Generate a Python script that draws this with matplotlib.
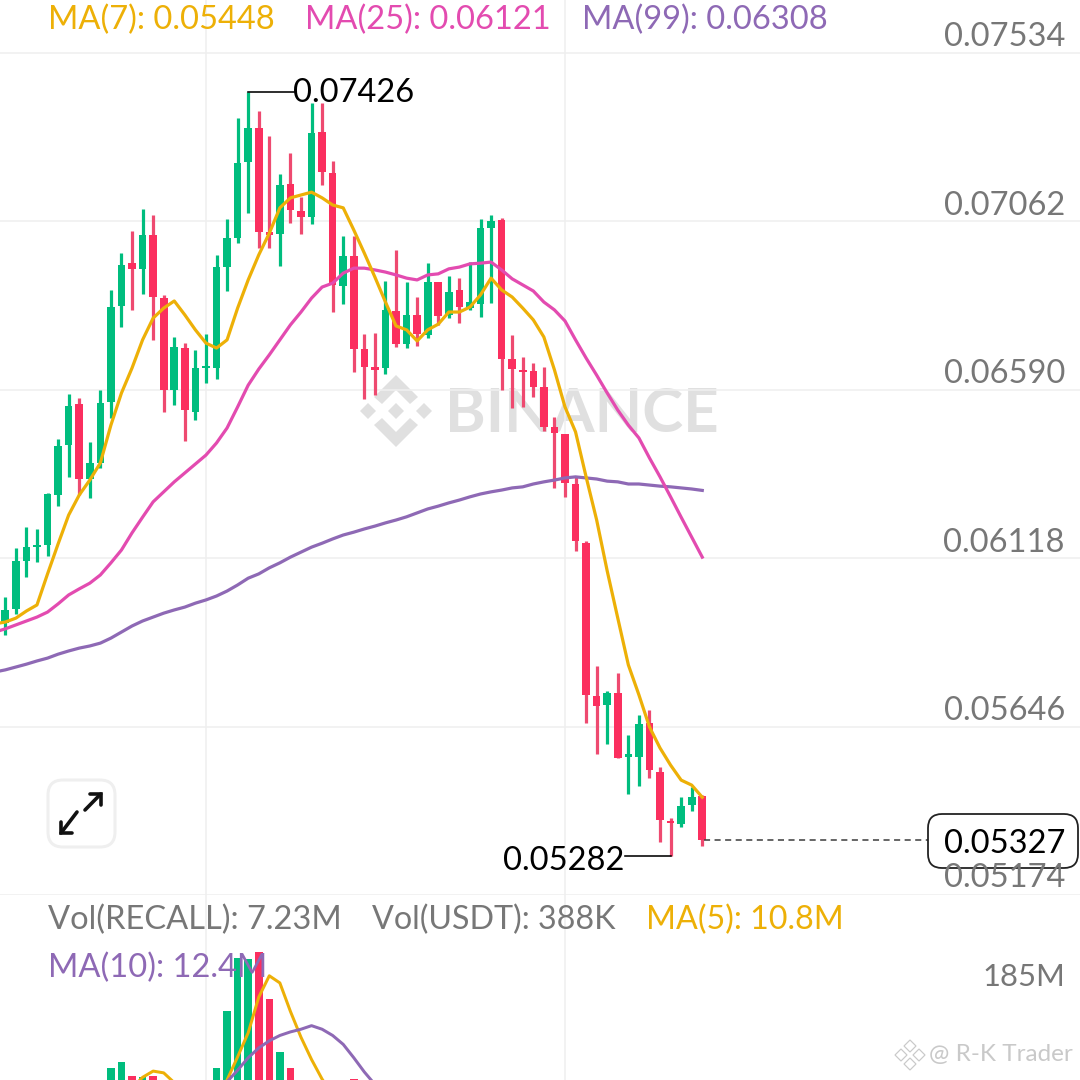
import numpy as np
import matplotlib
matplotlib.use("Agg")
import matplotlib.pyplot as plt
from matplotlib.patches import FancyBboxPatch, Polygon

plt.rcParams['font.family'] = ['Lato', 'DejaVu Sans']

# ---- data (prices in units of 0.00001) ----
PRICE_UNIT = 1e-5
candle_dir = ['G','G','G','G','G','G','G','R','G','G','G','G','R','G','R','R','G','R','G','G','G','G','G','G','R','R','G','R','R','G',
              'R','R','G','R','R','R','G','R','G','R','G','R','G','R','G','G','G','R','R','R','R','R','R','R','R','R','R','G','R','G',
              'G','R','R','R','G','G','R']
candle_high = [6009,6147,6205,6200,6301,6452,6578,6567,6444,6589,6870,6973,7035,7097,7080,6856,6738,6721,6702,6746,
               6968,7069,7352,7426,7372,7301,7195,7254,7130,7394,7394,7231,7021,7021,6746,6749,6895,6982,6892,6850,
               6945,6892,6909,6903,6948,7069,7080,7072,6744,6682,6665,6654,6514,6466,6348,6166,5816,5746,5796,5622,
               5679,5693,5533,5390,5449,5477,5454]
candle_top = [5973,6110,6149,6155,6298,6432,6545,6550,6385,6553,6822,6940,6945,7024,7024,6847,6710,6707,6651,6657,
              6934,7016,7226,7324,7324,7032,7164,7167,7091,7310,7313,7198,6965,6965,6704,6654,6814,6811,6800,6800,
              6892,6892,6864,6870,6836,7044,7063,7066,6676,6646,6643,6598,6486,6466,6326,6161,5732,5740,5740,5569,
              5653,5656,5519,5381,5423,5449,5451]
candle_bottom = [5936,5976,6110,6149,6155,6295,6435,6340,6340,6385,6556,6825,6929,6929,6850,6589,6589,6533,6528,6651,
                 6651,6934,7016,7229,7032,7024,7027,7094,7074,7074,7201,6884,6881,6704,6654,6646,6651,6718,6718,6746,
                 6744,6797,6800,6822,6819,6831,7044,6676,6648,6640,6598,6486,6469,6329,6166,5735,5704,5707,5558,5561,
                 5561,5524,5384,5376,5373,5426,5327]
candle_low = [5903,5962,6065,6107,6124,6264,6346,6295,6287,6371,6511,6766,6814,6859,6730,6528,6547,6447,6505,6609,
              6620,6867,7002,7086,6988,6988,6937,7058,7027,7055,7164,6808,6831,6640,6564,6575,6634,6710,6707,6713,
              6735,6772,6791,6777,6814,6794,6833,6589,6539,6542,6570,6475,6315,6290,6138,5656,5569,5597,5558,5457,
              5479,5502,5323,5282,5365,5409,5311]
# moving averages start one candle before the first visible one
ma7 = [5934,5939,5950,5970,5987,6074,6158,6239,6295,6337,6385,6491,6581,6651,6730,6791,6819,6839,6800,6758,6721,
       6707,6730,6819,6898,6968,7029,7100,7128,7136,7144,7128,7108,7100,7038,6973,6906,6836,6769,6758,6727,
       6758,6774,6808,6808,6822,6856,6903,6870,6850,6819,6786,6738,6646,6542,6472,6346,6225,6082,5950,5819,
       5735,5645,5586,5538,5496,5482,5448]
ma25 = [5911,5920,5931,5942,5953,5967,5990,6015,6032,6048,6071,6105,6141,6189,6233,6276,6304,6332,6357,6382,6407,
        6441,6483,6542,6603,6648,6688,6730,6772,6808,6847,6878,6889,6917,6931,6931,6926,6920,6912,6903,6898,
        6912,6915,6929,6934,6943,6945,6948,6926,6901,6884,6867,6836,6814,6783,6730,6679,6631,6581,6533,6491,
        6455,6399,6346,6290,6233,6177,6121]
ma99 = [5799,5805,5813,5821,5830,5838,5849,5858,5866,5872,5880,5894,5911,5928,5942,5953,5964,5973,5981,5992,6001,
        6012,6026,6043,6062,6074,6091,6105,6121,6135,6149,6160,6172,6183,6191,6200,6208,6217,6225,6234,6245,
        6256,6264,6273,6281,6290,6298,6304,6309,6315,6318,6326,6332,6337,6343,6346,6343,6340,6334,6332,6326,
        6326,6323,6320,6318,6315,6312,6308]
last_price = 5327
price_ticks = [7534, 7062, 6590, 6118, 5646, 5174]
tick_labels = ['0.07534', '0.07062', '0.06590', '0.06118', '0.05646', '0.05174']

# volume in millions: only the bars that rise into view
vol_index = [10, 11, 12, 13, 14, 20, 21, 22, 23, 24, 25, 26, 27, 33]
vol_values = [81, 87, 71, 70, 71, 80, 145, 204, 203, 211, 158, 98, 81, 68]
vol_ma5_a_idx = [12, 13, 14, 15, 16]
vol_ma5_a = [58, 70, 77, 75, 64]
vol_ma5_b_idx = list(range(20, 32))
vol_ma5_b = [40, 67, 93, 120, 160, 184, 176, 144, 115, 90, 68, 50]
vol_ma10_idx = list(range(20, 36))
vol_ma10 = [47, 65, 78, 92, 103, 111, 117, 121, 124, 128, 124, 117, 107, 92, 76, 62]

# ---- styles ----
GREEN, RED, RED_W = '#00BD7E', '#FB2F5F', '#EE4A70'
YEL, PINK, PUR = '#EDB007', '#E34BB0', '#8E69B5'
GRID, GREY = '#EFEFEF', '#777777'
PX = 0.72
FS = 23.5

fig = plt.figure(figsize=(10.8, 10.8), dpi=100, facecolor='white')
H = 895 / 1080
bg = fig.add_axes([0, 0, 1, 1], zorder=0)
ax = fig.add_axes([0, 1 - H, 1, H], zorder=1)
vx = fig.add_axes([0, 0, 1, 1 - H], zorder=1)
fg = fig.add_axes([0, 0, 1, 1], zorder=3)
for a in (bg, fg):
    a.set_xlim(0, 1080); a.set_ylim(1080, 0); a.axis('off')
    a.patch.set_alpha(0)

xlim = (-0.502, 101.77)
x = np.arange(len(candle_high))
ma_x = np.arange(-1, len(candle_high))
for a in (ax, vx):
    a.set_xlim(*xlim)
    a.patch.set_alpha(0)
    for s in a.spines.values():
        s.set_visible(False)
    a.set_xticks([19, 53])
    a.tick_params(length=0, labelbottom=False)
    a.grid(axis='x', color=GRID, lw=1.6 * PX, zorder=0)
    a.set_axisbelow(True)
ax.set_ylim(5174 * PRICE_UNIT, 7682.6 * PRICE_UNIT)
ax.set_yticks(np.array(price_ticks) * PRICE_UNIT)
ax.set_yticklabels([])
ax.grid(axis='y', color=GRID, lw=1.6 * PX, zorder=0)
vx.set_ylim(67, 274.7)
vx.set_yticks([])

# watermark
wm = '#E0E0E0'
bg.text(445, 414, 'BINANCE', fontsize=44.5, fontweight='bold', color=wm, va='center', ha='left', family='Lato')
cx, cy = 396, 411
for dx in (-28, 0, 28):
    bg.add_patch(Polygon([(cx+dx-8, cy), (cx+dx, cy-8), (cx+dx+8, cy), (cx+dx, cy+8)], color=wm, lw=0))
for s in (1, -1):
    bg.add_patch(Polygon([(cx, cy-36*s), (cx+22, cy-14*s), (cx+14, cy-7*s), (cx, cy-21*s),
                          (cx-14, cy-7*s), (cx-22, cy-14*s)], color=wm, lw=0))

# candles
cols = [GREEN if d == 'G' else RED for d in candle_dir]
wcols = [GREEN if d == 'G' else RED_W for d in candle_dir]
hi, lo = np.array(candle_high) * PRICE_UNIT, np.array(candle_low) * PRICE_UNIT
top, bot = np.array(candle_top) * PRICE_UNIT, np.array(candle_bottom) * PRICE_UNIT
ax.vlines(x, lo, hi, colors=wcols, lw=3.2 * PX, zorder=2)
ax.bar(x, top - bot, bottom=bot, width=0.72, color=cols, lw=0, zorder=3)

# moving averages
ax.plot(ma_x, np.array(ma99) * PRICE_UNIT, color=PUR, lw=3.2 * PX, zorder=4)
ax.plot(ma_x, np.array(ma25) * PRICE_UNIT, color=PINK, lw=3.2 * PX, zorder=5)
ax.plot(ma_x, np.array(ma7) * PRICE_UNIT, color=YEL, lw=3.2 * PX, zorder=6)

# high / low marks, last price
ihi, ilo = int(np.argmax(candle_high)), int(np.argmin(candle_low))
ax.plot([ihi, ihi + 4.36], [hi[ihi]] * 2, color='black', lw=1.6 * PX, zorder=7)
ax.plot([ilo - 4.3, ilo], [lo[ilo]] * 2, color='black', lw=1.6 * PX, zorder=7)
fg.text(293, 93, '0.07426', fontsize=FS, color='black', va='center', ha='left')
fg.text(624, 861, '0.05282', fontsize=FS, color='black', va='center', ha='right')
ax.plot([66.2, 87.4], [last_price * PRICE_UNIT] * 2, color='#444444', lw=1.6 * PX, dashes=(3.8, 2.8), zorder=7)

# axis labels
for tick, lab in zip(price_ticks, tick_labels):
    yy = 895 - (tick - 5174) * 168.4 / 472
    yy = yy - 15.5 if tick != 5174 else 878
    fg.text(1065, yy, lab, fontsize=FS, color=GREY, ha='right', va='center')
fg.add_patch(FancyBboxPatch((928 + 12, 814 + 12), 150 - 24, 54 - 24, boxstyle='round,pad=12,rounding_size=14',
                            fc='white', ec='#222222', lw=1.8 * PX))
fg.text(1065, 844, '0.05327', fontsize=FS, color='black', ha='right', va='center')

# legends
fg.text(48, 20, 'MA(7): 0.05448', fontsize=FS, color=YEL, va='center')
fg.text(305, 20, 'MA(25): 0.06121', fontsize=FS, color=PINK, va='center')
fg.text(582, 20, 'MA(99): 0.06308', fontsize=FS, color=PUR, va='center')
fg.text(48, 920, 'Vol(RECALL): 7.23M', fontsize=FS, color=GREY, va='center')
fg.text(372, 920, 'Vol(USDT): 388K', fontsize=23.2, color=GREY, va='center')
fg.text(646, 920, 'MA(5): 10.8M', fontsize=23.2, color=YEL, va='center')
fg.text(48, 968, 'MA(10): 12.4M', fontsize=FS, color=PUR, va='center')
fg.text(1065, 977, '185M', fontsize=22.3, color=GREY, ha='right', va='center')

# volume
vcols = [cols[i] for i in vol_index]
vx.bar(vol_index, vol_values, width=0.72, color=vcols, lw=0, zorder=2)
vx.plot(vol_ma5_a_idx, vol_ma5_a, color=YEL, lw=3 * PX, zorder=3)
vx.plot(vol_ma5_b_idx, vol_ma5_b, color=YEL, lw=3 * PX, zorder=3)
vx.plot(vol_ma10_idx, vol_ma10, color=PUR, lw=3 * PX, zorder=4)

# expand icon
fg.add_patch(FancyBboxPatch((48 + 15, 780 + 15), 67 - 30, 67 - 30, boxstyle='round,pad=15,rounding_size=15',
                            fc='white', ec='#EFEFEF', lw=3 * PX))
ik = dict(color='#111111', lw=3.6 * PX, solid_capstyle='round', solid_joinstyle='miter')
fg.plot([85, 100.7], [810, 794], **ik)
fg.plot([90, 100.7, 100.7], [794, 794, 805], **ik)
fg.plot([77, 61], [812, 833], **ik)
fg.plot([61, 61, 72], [822, 833, 833], **ik)
fg.set_xlim(0, 1080); fg.set_ylim(1080, 0)

# corner credit
cg = '#C9C9C9'
mx, my = 910, 1055
for dx, dy in ((-9, 0), (9, 0), (0, 9), (0, -9)):
    fg.add_patch(Polygon([(mx+dx-6, my+dy), (mx+dx, my+dy-6), (mx+dx+6, my+dy), (mx+dx, my+dy+6)],
                         fc='white', ec=cg, lw=1.2 * PX))
fg.text(929, 1055, '@ R-K Trader', fontsize=17.5, color=cg, va='center', ha='left')

fig.savefig('out.png', dpi=100)
